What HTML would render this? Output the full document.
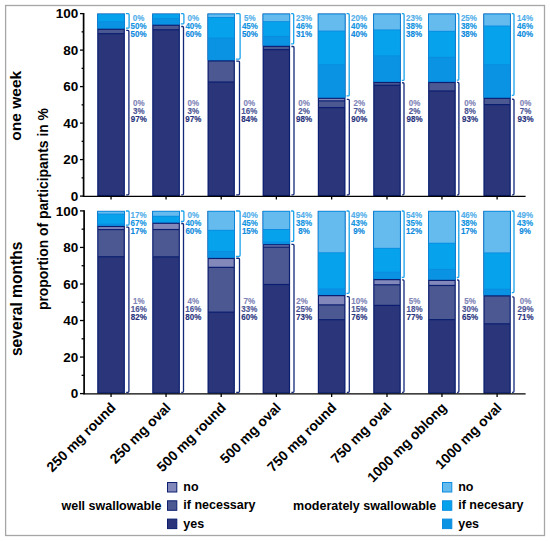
<!DOCTYPE html>
<html><head><meta charset="utf-8"><style>
html,body{margin:0;padding:0;background:#fff;}
body{width:550px;height:541px;overflow:hidden;}
svg{display:block;font-family:"Liberation Sans", sans-serif;font-weight:bold;}
</style></head><body>
<svg width="550" height="541" viewBox="0 0 550 541">
<rect width="550" height="541" fill="#fff"/>
<rect x="5.6" y="5.5" width="538.9" height="530" fill="none" stroke="#a6a6a6" stroke-width="1.3"/>
<rect x="97.20" y="13.60" width="27.70" height="182.50" fill="#0b1e70"/>
<rect x="97.20" y="13.60" width="27.70" height="15.06" fill="#0a8ce0"/>
<rect x="98.10" y="14.50" width="25.90" height="6.78" fill="#06a2eb"/>
<rect x="98.10" y="22.18" width="25.90" height="6.03" fill="#0a92e3"/>
<rect x="98.40" y="29.86" width="25.30" height="3.22" fill="#4c5892"/>
<rect x="98.40" y="34.28" width="25.30" height="160.62" fill="#2a3679"/>
<path d="M125.90,13.70 H128.10 Q129.10,13.70 129.10,14.70 V27.21 Q129.10,28.21 128.10,28.21 H125.90" fill="none" stroke="#18a2ec" stroke-width="1.3"/>
<path d="M126.20,30.41 H127.90 Q128.90,30.41 128.90,31.41 V193.80 Q128.90,194.80 127.90,194.80 H126.20" fill="none" stroke="#12297a" stroke-width="1.3"/>
<text transform="translate(138.60,21.00) scale(0.93,1)" fill="#50aeea" stroke="#50aeea" stroke-width="0.15" font-size="8.6" text-anchor="middle">0%</text>
<text transform="translate(138.60,29.00) scale(0.93,1)" fill="#1094e2" stroke="#1094e2" stroke-width="0.15" font-size="8.6" text-anchor="middle">50%</text>
<text transform="translate(138.60,37.00) scale(0.93,1)" fill="#0a89dd" stroke="#0a89dd" stroke-width="0.15" font-size="8.6" text-anchor="middle">50%</text>
<text transform="translate(138.80,105.50) scale(0.93,1)" fill="#7f85b8" stroke="#7f85b8" stroke-width="0.15" font-size="8.6" text-anchor="middle">0%</text>
<text transform="translate(138.80,113.60) scale(0.93,1)" fill="#4d5696" stroke="#4d5696" stroke-width="0.15" font-size="8.6" text-anchor="middle">3%</text>
<text transform="translate(138.80,121.90) scale(0.93,1)" fill="#27327c" stroke="#27327c" stroke-width="0.15" font-size="8.6" text-anchor="middle">97%</text>
<rect x="152.20" y="13.60" width="27.70" height="182.50" fill="#0b1e70"/>
<rect x="152.20" y="13.60" width="27.70" height="11.04" fill="#0a8ce0"/>
<rect x="153.10" y="14.50" width="25.90" height="3.67" fill="#06a2eb"/>
<rect x="153.10" y="19.07" width="25.90" height="5.12" fill="#0a92e3"/>
<rect x="153.40" y="25.84" width="25.30" height="3.34" fill="#4c5892"/>
<rect x="153.40" y="30.39" width="25.30" height="164.51" fill="#2a3679"/>
<path d="M180.90,13.70 H182.90 Q183.90,13.70 183.90,14.70 V22.89 Q183.90,23.89 182.90,23.89 H180.90" fill="none" stroke="#18a2ec" stroke-width="1.3"/>
<path d="M181.20,26.49 H182.50 Q183.50,26.49 183.50,27.49 V193.80 Q183.50,194.80 182.50,194.80 H181.20" fill="none" stroke="#12297a" stroke-width="1.3"/>
<text transform="translate(193.40,21.00) scale(0.93,1)" fill="#50aeea" stroke="#50aeea" stroke-width="0.15" font-size="8.6" text-anchor="middle">0%</text>
<text transform="translate(193.40,29.00) scale(0.93,1)" fill="#1094e2" stroke="#1094e2" stroke-width="0.15" font-size="8.6" text-anchor="middle">40%</text>
<text transform="translate(193.40,37.00) scale(0.93,1)" fill="#0a89dd" stroke="#0a89dd" stroke-width="0.15" font-size="8.6" text-anchor="middle">60%</text>
<text transform="translate(193.30,105.50) scale(0.93,1)" fill="#7f85b8" stroke="#7f85b8" stroke-width="0.15" font-size="8.6" text-anchor="middle">0%</text>
<text transform="translate(193.30,113.60) scale(0.93,1)" fill="#4d5696" stroke="#4d5696" stroke-width="0.15" font-size="8.6" text-anchor="middle">3%</text>
<text transform="translate(193.30,121.90) scale(0.93,1)" fill="#27327c" stroke="#27327c" stroke-width="0.15" font-size="8.6" text-anchor="middle">97%</text>
<rect x="207.50" y="13.60" width="27.40" height="182.50" fill="#0b1e70"/>
<rect x="207.50" y="13.60" width="27.40" height="46.72" fill="#0a8ce0"/>
<rect x="208.40" y="14.50" width="25.60" height="2.52" fill="#66bbee"/>
<rect x="208.40" y="17.92" width="25.60" height="19.66" fill="#06a2eb"/>
<rect x="208.40" y="38.48" width="25.60" height="21.39" fill="#0a92e3"/>
<rect x="208.70" y="61.52" width="25.00" height="19.92" fill="#4c5892"/>
<rect x="208.70" y="82.64" width="25.00" height="112.26" fill="#2a3679"/>
<path d="M235.90,13.70 H239.10 Q240.10,13.70 240.10,14.70 V58.12 Q240.10,59.12 239.10,59.12 H235.90" fill="none" stroke="#18a2ec" stroke-width="1.3"/>
<path d="M236.20,61.12 H238.50 Q239.50,61.12 239.50,62.12 V193.80 Q239.50,194.80 238.50,194.80 H236.20" fill="none" stroke="#12297a" stroke-width="1.3"/>
<text transform="translate(249.90,21.00) scale(0.93,1)" fill="#50aeea" stroke="#50aeea" stroke-width="0.15" font-size="8.6" text-anchor="middle">5%</text>
<text transform="translate(249.90,29.00) scale(0.93,1)" fill="#1094e2" stroke="#1094e2" stroke-width="0.15" font-size="8.6" text-anchor="middle">45%</text>
<text transform="translate(249.90,37.00) scale(0.93,1)" fill="#0a89dd" stroke="#0a89dd" stroke-width="0.15" font-size="8.6" text-anchor="middle">50%</text>
<text transform="translate(249.30,105.50) scale(0.93,1)" fill="#7f85b8" stroke="#7f85b8" stroke-width="0.15" font-size="8.6" text-anchor="middle">0%</text>
<text transform="translate(249.30,113.60) scale(0.93,1)" fill="#4d5696" stroke="#4d5696" stroke-width="0.15" font-size="8.6" text-anchor="middle">16%</text>
<text transform="translate(249.30,121.90) scale(0.93,1)" fill="#27327c" stroke="#27327c" stroke-width="0.15" font-size="8.6" text-anchor="middle">84%</text>
<rect x="262.60" y="13.60" width="27.50" height="182.50" fill="#0b1e70"/>
<rect x="262.60" y="13.60" width="27.50" height="32.12" fill="#0a8ce0"/>
<rect x="263.50" y="14.50" width="25.70" height="6.64" fill="#66bbee"/>
<rect x="263.50" y="22.04" width="25.70" height="13.88" fill="#06a2eb"/>
<rect x="263.50" y="36.81" width="25.70" height="8.46" fill="#0a92e3"/>
<rect x="263.80" y="46.92" width="25.10" height="2.11" fill="#4c5892"/>
<rect x="263.80" y="50.23" width="25.10" height="144.67" fill="#2a3679"/>
<path d="M291.10,13.70 H292.70 Q293.70,13.70 293.70,14.70 V42.92 Q293.70,43.92 292.70,43.92 H291.10" fill="none" stroke="#18a2ec" stroke-width="1.3"/>
<path d="M291.40,46.52 H293.00 Q294.00,46.52 294.00,47.52 V193.80 Q294.00,194.80 293.00,194.80 H291.40" fill="none" stroke="#12297a" stroke-width="1.3"/>
<text transform="translate(304.00,21.00) scale(0.93,1)" fill="#50aeea" stroke="#50aeea" stroke-width="0.15" font-size="8.6" text-anchor="middle">23%</text>
<text transform="translate(304.00,29.00) scale(0.93,1)" fill="#1094e2" stroke="#1094e2" stroke-width="0.15" font-size="8.6" text-anchor="middle">46%</text>
<text transform="translate(304.00,37.00) scale(0.93,1)" fill="#0a89dd" stroke="#0a89dd" stroke-width="0.15" font-size="8.6" text-anchor="middle">31%</text>
<text transform="translate(304.10,105.50) scale(0.93,1)" fill="#7f85b8" stroke="#7f85b8" stroke-width="0.15" font-size="8.6" text-anchor="middle">0%</text>
<text transform="translate(304.10,113.60) scale(0.93,1)" fill="#4d5696" stroke="#4d5696" stroke-width="0.15" font-size="8.6" text-anchor="middle">2%</text>
<text transform="translate(304.10,121.90) scale(0.93,1)" fill="#27327c" stroke="#27327c" stroke-width="0.15" font-size="8.6" text-anchor="middle">98%</text>
<rect x="317.80" y="13.60" width="27.70" height="182.50" fill="#0b1e70"/>
<rect x="317.80" y="13.60" width="27.70" height="84.13" fill="#0a8ce0"/>
<rect x="318.70" y="14.50" width="25.90" height="16.08" fill="#66bbee"/>
<rect x="318.70" y="31.48" width="25.90" height="32.75" fill="#06a2eb"/>
<rect x="318.70" y="65.13" width="25.90" height="32.15" fill="#0a92e3"/>
<rect x="319.00" y="98.93" width="25.30" height="1.35" fill="#8289ba"/>
<rect x="319.00" y="101.48" width="25.30" height="5.49" fill="#4c5892"/>
<rect x="319.00" y="108.17" width="25.30" height="86.73" fill="#2a3679"/>
<path d="M346.50,13.70 H348.20 Q349.20,13.70 349.20,14.70 V94.93 Q349.20,95.93 348.20,95.93 H346.50" fill="none" stroke="#18a2ec" stroke-width="1.3"/>
<path d="M346.80,99.33 H348.30 Q349.30,99.33 349.30,100.33 V193.80 Q349.30,194.80 348.30,194.80 H346.80" fill="none" stroke="#12297a" stroke-width="1.3"/>
<text transform="translate(359.00,21.00) scale(0.93,1)" fill="#50aeea" stroke="#50aeea" stroke-width="0.15" font-size="8.6" text-anchor="middle">20%</text>
<text transform="translate(359.00,29.00) scale(0.93,1)" fill="#1094e2" stroke="#1094e2" stroke-width="0.15" font-size="8.6" text-anchor="middle">40%</text>
<text transform="translate(359.00,37.00) scale(0.93,1)" fill="#0a89dd" stroke="#0a89dd" stroke-width="0.15" font-size="8.6" text-anchor="middle">40%</text>
<text transform="translate(359.30,105.50) scale(0.93,1)" fill="#7f85b8" stroke="#7f85b8" stroke-width="0.15" font-size="8.6" text-anchor="middle">2%</text>
<text transform="translate(359.30,113.60) scale(0.93,1)" fill="#4d5696" stroke="#4d5696" stroke-width="0.15" font-size="8.6" text-anchor="middle">7%</text>
<text transform="translate(359.30,121.90) scale(0.93,1)" fill="#27327c" stroke="#27327c" stroke-width="0.15" font-size="8.6" text-anchor="middle">90%</text>
<rect x="373.20" y="13.60" width="27.60" height="182.50" fill="#0b1e70"/>
<rect x="373.20" y="13.60" width="27.60" height="68.25" fill="#0a8ce0"/>
<rect x="374.10" y="14.50" width="25.80" height="14.95" fill="#66bbee"/>
<rect x="374.10" y="30.35" width="25.80" height="25.04" fill="#06a2eb"/>
<rect x="374.10" y="56.29" width="25.80" height="25.12" fill="#0a92e3"/>
<rect x="374.40" y="83.05" width="25.20" height="1.63" fill="#4c5892"/>
<rect x="374.40" y="85.88" width="25.20" height="109.02" fill="#2a3679"/>
<path d="M401.80,13.70 H403.10 Q404.10,13.70 404.10,14.70 V79.45 Q404.10,80.45 403.10,80.45 H401.80" fill="none" stroke="#18a2ec" stroke-width="1.3"/>
<path d="M402.10,82.75 H403.00 Q404.00,82.75 404.00,83.75 V193.80 Q404.00,194.80 403.00,194.80 H402.10" fill="none" stroke="#12297a" stroke-width="1.3"/>
<text transform="translate(414.00,21.00) scale(0.93,1)" fill="#50aeea" stroke="#50aeea" stroke-width="0.15" font-size="8.6" text-anchor="middle">23%</text>
<text transform="translate(414.00,29.00) scale(0.93,1)" fill="#1094e2" stroke="#1094e2" stroke-width="0.15" font-size="8.6" text-anchor="middle">38%</text>
<text transform="translate(414.00,37.00) scale(0.93,1)" fill="#0a89dd" stroke="#0a89dd" stroke-width="0.15" font-size="8.6" text-anchor="middle">38%</text>
<text transform="translate(414.60,105.50) scale(0.93,1)" fill="#7f85b8" stroke="#7f85b8" stroke-width="0.15" font-size="8.6" text-anchor="middle">0%</text>
<text transform="translate(414.60,113.60) scale(0.93,1)" fill="#4d5696" stroke="#4d5696" stroke-width="0.15" font-size="8.6" text-anchor="middle">2%</text>
<text transform="translate(414.60,121.90) scale(0.93,1)" fill="#27327c" stroke="#27327c" stroke-width="0.15" font-size="8.6" text-anchor="middle">98%</text>
<rect x="428.10" y="13.60" width="27.70" height="182.50" fill="#0b1e70"/>
<rect x="428.10" y="13.60" width="27.70" height="68.25" fill="#0a8ce0"/>
<rect x="429.00" y="14.50" width="25.90" height="16.31" fill="#66bbee"/>
<rect x="429.00" y="31.71" width="25.90" height="25.04" fill="#06a2eb"/>
<rect x="429.00" y="57.65" width="25.90" height="23.75" fill="#0a92e3"/>
<rect x="429.30" y="83.05" width="25.30" height="7.34" fill="#4c5892"/>
<rect x="429.30" y="91.59" width="25.30" height="103.31" fill="#2a3679"/>
<path d="M456.80,13.70 H457.80 Q458.80,13.70 458.80,14.70 V79.15 Q458.80,80.15 457.80,80.15 H456.80" fill="none" stroke="#18a2ec" stroke-width="1.3"/>
<path d="M457.10,82.45 H457.90 Q458.90,82.45 458.90,83.45 V193.80 Q458.90,194.80 457.90,194.80 H457.10" fill="none" stroke="#12297a" stroke-width="1.3"/>
<text transform="translate(468.90,21.00) scale(0.93,1)" fill="#50aeea" stroke="#50aeea" stroke-width="0.15" font-size="8.6" text-anchor="middle">25%</text>
<text transform="translate(468.90,29.00) scale(0.93,1)" fill="#1094e2" stroke="#1094e2" stroke-width="0.15" font-size="8.6" text-anchor="middle">38%</text>
<text transform="translate(468.90,37.00) scale(0.93,1)" fill="#0a89dd" stroke="#0a89dd" stroke-width="0.15" font-size="8.6" text-anchor="middle">38%</text>
<text transform="translate(470.10,105.50) scale(0.93,1)" fill="#7f85b8" stroke="#7f85b8" stroke-width="0.15" font-size="8.6" text-anchor="middle">0%</text>
<text transform="translate(470.10,113.60) scale(0.93,1)" fill="#4d5696" stroke="#4d5696" stroke-width="0.15" font-size="8.6" text-anchor="middle">8%</text>
<text transform="translate(470.10,121.90) scale(0.93,1)" fill="#27327c" stroke="#27327c" stroke-width="0.15" font-size="8.6" text-anchor="middle">93%</text>
<rect x="483.40" y="13.60" width="27.40" height="182.50" fill="#0b1e70"/>
<rect x="483.40" y="13.60" width="27.40" height="84.13" fill="#0a8ce0"/>
<rect x="484.30" y="14.50" width="25.60" height="11.03" fill="#66bbee"/>
<rect x="484.30" y="26.43" width="25.60" height="37.80" fill="#06a2eb"/>
<rect x="484.30" y="65.13" width="25.60" height="32.15" fill="#0a92e3"/>
<rect x="484.60" y="98.93" width="25.00" height="5.09" fill="#4c5892"/>
<rect x="484.60" y="105.22" width="25.00" height="89.68" fill="#2a3679"/>
<path d="M511.80,13.70 H513.00 Q514.00,13.70 514.00,14.70 V94.33 Q514.00,95.33 513.00,95.33 H511.80" fill="none" stroke="#18a2ec" stroke-width="1.3"/>
<path d="M512.10,99.23 H513.00 Q514.00,99.23 514.00,100.23 V193.80 Q514.00,194.80 513.00,194.80 H512.10" fill="none" stroke="#12297a" stroke-width="1.3"/>
<text transform="translate(525.00,21.00) scale(0.93,1)" fill="#50aeea" stroke="#50aeea" stroke-width="0.15" font-size="8.6" text-anchor="middle">14%</text>
<text transform="translate(525.00,29.00) scale(0.93,1)" fill="#1094e2" stroke="#1094e2" stroke-width="0.15" font-size="8.6" text-anchor="middle">46%</text>
<text transform="translate(525.00,37.00) scale(0.93,1)" fill="#0a89dd" stroke="#0a89dd" stroke-width="0.15" font-size="8.6" text-anchor="middle">40%</text>
<text transform="translate(525.50,105.50) scale(0.93,1)" fill="#7f85b8" stroke="#7f85b8" stroke-width="0.15" font-size="8.6" text-anchor="middle">0%</text>
<text transform="translate(525.50,113.60) scale(0.93,1)" fill="#4d5696" stroke="#4d5696" stroke-width="0.15" font-size="8.6" text-anchor="middle">7%</text>
<text transform="translate(525.50,121.90) scale(0.93,1)" fill="#27327c" stroke="#27327c" stroke-width="0.15" font-size="8.6" text-anchor="middle">93%</text>
<line x1="83.6" y1="13.0" x2="83.6" y2="196.79999999999998" stroke="#000" stroke-width="1.7"/>
<line x1="82.8" y1="196.40" x2="525.6" y2="196.40" stroke="#000" stroke-width="1.2"/>
<line x1="80.0" y1="196.10" x2="83.6" y2="196.10" stroke="#000" stroke-width="1.3"/>
<text x="78.3" y="200.80" font-size="13.5" fill="#000" text-anchor="end">0</text>
<line x1="81.6" y1="177.85" x2="83.6" y2="177.85" stroke="#000" stroke-width="1.3"/>
<line x1="80.0" y1="159.60" x2="83.6" y2="159.60" stroke="#000" stroke-width="1.3"/>
<text x="78.3" y="164.30" font-size="13.5" fill="#000" text-anchor="end">20</text>
<line x1="81.6" y1="141.35" x2="83.6" y2="141.35" stroke="#000" stroke-width="1.3"/>
<line x1="80.0" y1="123.10" x2="83.6" y2="123.10" stroke="#000" stroke-width="1.3"/>
<text x="78.3" y="127.80" font-size="13.5" fill="#000" text-anchor="end">40</text>
<line x1="81.6" y1="104.85" x2="83.6" y2="104.85" stroke="#000" stroke-width="1.3"/>
<line x1="80.0" y1="86.60" x2="83.6" y2="86.60" stroke="#000" stroke-width="1.3"/>
<text x="78.3" y="91.30" font-size="13.5" fill="#000" text-anchor="end">60</text>
<line x1="81.6" y1="68.35" x2="83.6" y2="68.35" stroke="#000" stroke-width="1.3"/>
<line x1="80.0" y1="50.10" x2="83.6" y2="50.10" stroke="#000" stroke-width="1.3"/>
<text x="78.3" y="54.80" font-size="13.5" fill="#000" text-anchor="end">80</text>
<line x1="81.6" y1="31.85" x2="83.6" y2="31.85" stroke="#000" stroke-width="1.3"/>
<line x1="80.0" y1="13.60" x2="83.6" y2="13.60" stroke="#000" stroke-width="1.3"/>
<text x="78.3" y="18.30" font-size="13.5" fill="#000" text-anchor="end">100</text>
<line x1="111.05" y1="196.1" x2="111.05" y2="199.4" stroke="#000" stroke-width="1.3"/>
<line x1="166.05" y1="196.1" x2="166.05" y2="199.4" stroke="#000" stroke-width="1.3"/>
<line x1="221.20" y1="196.1" x2="221.20" y2="199.4" stroke="#000" stroke-width="1.3"/>
<line x1="276.35" y1="196.1" x2="276.35" y2="199.4" stroke="#000" stroke-width="1.3"/>
<line x1="331.65" y1="196.1" x2="331.65" y2="199.4" stroke="#000" stroke-width="1.3"/>
<line x1="387.00" y1="196.1" x2="387.00" y2="199.4" stroke="#000" stroke-width="1.3"/>
<line x1="441.95" y1="196.1" x2="441.95" y2="199.4" stroke="#000" stroke-width="1.3"/>
<line x1="497.10" y1="196.1" x2="497.10" y2="199.4" stroke="#000" stroke-width="1.3"/>
<rect x="97.20" y="210.90" width="27.70" height="182.70" fill="#0b1e70"/>
<rect x="97.20" y="210.90" width="27.70" height="14.98" fill="#0a8ce0"/>
<rect x="98.10" y="211.80" width="25.90" height="1.80" fill="#66bbee"/>
<rect x="98.10" y="214.50" width="25.90" height="9.14" fill="#06a2eb"/>
<rect x="98.10" y="224.53" width="25.90" height="0.90" fill="#0a92e3"/>
<rect x="98.40" y="227.08" width="25.30" height="1.89" fill="#8289ba"/>
<rect x="98.40" y="230.17" width="25.30" height="25.97" fill="#4c5892"/>
<rect x="98.40" y="257.34" width="25.30" height="135.06" fill="#2a3679"/>
<path d="M125.90,211.00 H128.10 Q129.10,211.00 129.10,212.00 V224.08 Q129.10,225.08 128.10,225.08 H125.90" fill="none" stroke="#18a2ec" stroke-width="1.3"/>
<path d="M126.20,227.18 H127.90 Q128.90,227.18 128.90,228.18 V391.30 Q128.90,392.30 127.90,392.30 H126.20" fill="none" stroke="#12297a" stroke-width="1.3"/>
<text transform="translate(138.60,218.00) scale(0.93,1)" fill="#50aeea" stroke="#50aeea" stroke-width="0.15" font-size="8.6" text-anchor="middle">17%</text>
<text transform="translate(138.60,225.90) scale(0.93,1)" fill="#1094e2" stroke="#1094e2" stroke-width="0.15" font-size="8.6" text-anchor="middle">67%</text>
<text transform="translate(138.60,233.80) scale(0.93,1)" fill="#0a89dd" stroke="#0a89dd" stroke-width="0.15" font-size="8.6" text-anchor="middle">17%</text>
<text transform="translate(138.80,303.50) scale(0.93,1)" fill="#7f85b8" stroke="#7f85b8" stroke-width="0.15" font-size="8.6" text-anchor="middle">1%</text>
<text transform="translate(138.80,311.50) scale(0.93,1)" fill="#4d5696" stroke="#4d5696" stroke-width="0.15" font-size="8.6" text-anchor="middle">16%</text>
<text transform="translate(138.80,319.50) scale(0.93,1)" fill="#27327c" stroke="#27327c" stroke-width="0.15" font-size="8.6" text-anchor="middle">82%</text>
<rect x="152.20" y="210.90" width="27.70" height="182.70" fill="#0b1e70"/>
<rect x="152.20" y="210.90" width="27.70" height="11.78" fill="#0a8ce0"/>
<rect x="153.10" y="211.80" width="25.90" height="3.96" fill="#66bbee"/>
<rect x="153.10" y="216.66" width="25.90" height="5.57" fill="#06a2eb"/>
<rect x="153.40" y="223.88" width="25.30" height="5.04" fill="#8289ba"/>
<rect x="153.40" y="230.12" width="25.30" height="26.15" fill="#4c5892"/>
<rect x="153.40" y="257.47" width="25.30" height="134.93" fill="#2a3679"/>
<path d="M180.90,211.00 H182.90 Q183.90,211.00 183.90,212.00 V220.48 Q183.90,221.48 182.90,221.48 H180.90" fill="none" stroke="#18a2ec" stroke-width="1.3"/>
<path d="M181.20,223.48 H182.50 Q183.50,223.48 183.50,224.48 V391.30 Q183.50,392.30 182.50,392.30 H181.20" fill="none" stroke="#12297a" stroke-width="1.3"/>
<text transform="translate(193.40,218.00) scale(0.93,1)" fill="#50aeea" stroke="#50aeea" stroke-width="0.15" font-size="8.6" text-anchor="middle">0%</text>
<text transform="translate(193.40,225.90) scale(0.93,1)" fill="#1094e2" stroke="#1094e2" stroke-width="0.15" font-size="8.6" text-anchor="middle">40%</text>
<text transform="translate(193.40,233.80) scale(0.93,1)" fill="#0a89dd" stroke="#0a89dd" stroke-width="0.15" font-size="8.6" text-anchor="middle">60%</text>
<text transform="translate(193.30,303.50) scale(0.93,1)" fill="#7f85b8" stroke="#7f85b8" stroke-width="0.15" font-size="8.6" text-anchor="middle">4%</text>
<text transform="translate(193.30,311.50) scale(0.93,1)" fill="#4d5696" stroke="#4d5696" stroke-width="0.15" font-size="8.6" text-anchor="middle">16%</text>
<text transform="translate(193.30,319.50) scale(0.93,1)" fill="#27327c" stroke="#27327c" stroke-width="0.15" font-size="8.6" text-anchor="middle">80%</text>
<rect x="207.50" y="210.90" width="27.40" height="182.70" fill="#0b1e70"/>
<rect x="207.50" y="210.90" width="27.40" height="46.95" fill="#0a8ce0"/>
<rect x="208.40" y="211.80" width="25.60" height="18.03" fill="#66bbee"/>
<rect x="208.40" y="230.73" width="25.60" height="20.23" fill="#06a2eb"/>
<rect x="208.40" y="251.86" width="25.60" height="5.54" fill="#0a92e3"/>
<rect x="208.70" y="259.05" width="25.00" height="7.70" fill="#8289ba"/>
<rect x="208.70" y="267.96" width="25.00" height="43.60" fill="#4c5892"/>
<rect x="208.70" y="312.75" width="25.00" height="79.65" fill="#2a3679"/>
<path d="M235.90,211.00 H239.10 Q240.10,211.00 240.10,212.00 V255.35 Q240.10,256.35 239.10,256.35 H235.90" fill="none" stroke="#18a2ec" stroke-width="1.3"/>
<path d="M236.20,258.25 H238.50 Q239.50,258.25 239.50,259.25 V391.30 Q239.50,392.30 238.50,392.30 H236.20" fill="none" stroke="#12297a" stroke-width="1.3"/>
<text transform="translate(249.90,218.00) scale(0.93,1)" fill="#50aeea" stroke="#50aeea" stroke-width="0.15" font-size="8.6" text-anchor="middle">40%</text>
<text transform="translate(249.90,225.90) scale(0.93,1)" fill="#1094e2" stroke="#1094e2" stroke-width="0.15" font-size="8.6" text-anchor="middle">45%</text>
<text transform="translate(249.90,233.80) scale(0.93,1)" fill="#0a89dd" stroke="#0a89dd" stroke-width="0.15" font-size="8.6" text-anchor="middle">15%</text>
<text transform="translate(249.30,303.50) scale(0.93,1)" fill="#7f85b8" stroke="#7f85b8" stroke-width="0.15" font-size="8.6" text-anchor="middle">7%</text>
<text transform="translate(249.30,311.50) scale(0.93,1)" fill="#4d5696" stroke="#4d5696" stroke-width="0.15" font-size="8.6" text-anchor="middle">33%</text>
<text transform="translate(249.30,319.50) scale(0.93,1)" fill="#27327c" stroke="#27327c" stroke-width="0.15" font-size="8.6" text-anchor="middle">60%</text>
<rect x="262.60" y="210.90" width="27.50" height="182.70" fill="#0b1e70"/>
<rect x="262.60" y="210.90" width="27.50" height="33.25" fill="#0a8ce0"/>
<rect x="263.50" y="211.80" width="25.70" height="17.21" fill="#66bbee"/>
<rect x="263.50" y="229.91" width="25.70" height="11.74" fill="#06a2eb"/>
<rect x="263.50" y="242.54" width="25.70" height="1.16" fill="#0a92e3"/>
<rect x="263.80" y="245.35" width="25.10" height="1.19" fill="#8289ba"/>
<rect x="263.80" y="247.74" width="25.10" height="36.16" fill="#4c5892"/>
<rect x="263.80" y="285.10" width="25.10" height="107.30" fill="#2a3679"/>
<path d="M291.10,211.00 H292.70 Q293.70,211.00 293.70,212.00 V240.45 Q293.70,241.45 292.70,241.45 H291.10" fill="none" stroke="#18a2ec" stroke-width="1.3"/>
<path d="M291.40,244.45 H293.00 Q294.00,244.45 294.00,245.45 V391.30 Q294.00,392.30 293.00,392.30 H291.40" fill="none" stroke="#12297a" stroke-width="1.3"/>
<text transform="translate(304.00,218.00) scale(0.93,1)" fill="#50aeea" stroke="#50aeea" stroke-width="0.15" font-size="8.6" text-anchor="middle">54%</text>
<text transform="translate(304.00,225.90) scale(0.93,1)" fill="#1094e2" stroke="#1094e2" stroke-width="0.15" font-size="8.6" text-anchor="middle">38%</text>
<text transform="translate(304.00,233.80) scale(0.93,1)" fill="#0a89dd" stroke="#0a89dd" stroke-width="0.15" font-size="8.6" text-anchor="middle">8%</text>
<text transform="translate(302.00,303.50) scale(0.93,1)" fill="#7f85b8" stroke="#7f85b8" stroke-width="0.15" font-size="8.6" text-anchor="middle">2%</text>
<text transform="translate(304.10,311.50) scale(0.93,1)" fill="#4d5696" stroke="#4d5696" stroke-width="0.15" font-size="8.6" text-anchor="middle">25%</text>
<text transform="translate(304.10,319.50) scale(0.93,1)" fill="#27327c" stroke="#27327c" stroke-width="0.15" font-size="8.6" text-anchor="middle">73%</text>
<rect x="317.80" y="210.90" width="27.70" height="182.70" fill="#0b1e70"/>
<rect x="317.80" y="210.90" width="27.70" height="84.13" fill="#0a8ce0"/>
<rect x="318.70" y="211.80" width="25.90" height="40.48" fill="#66bbee"/>
<rect x="318.70" y="253.18" width="25.90" height="35.28" fill="#06a2eb"/>
<rect x="318.70" y="289.35" width="25.90" height="5.23" fill="#0a92e3"/>
<rect x="319.00" y="296.23" width="25.30" height="8.06" fill="#8289ba"/>
<rect x="319.00" y="305.49" width="25.30" height="13.58" fill="#4c5892"/>
<rect x="319.00" y="320.28" width="25.30" height="72.12" fill="#2a3679"/>
<path d="M346.50,211.00 H348.20 Q349.20,211.00 349.20,212.00 V292.33 Q349.20,293.33 348.20,293.33 H346.50" fill="none" stroke="#18a2ec" stroke-width="1.3"/>
<path d="M346.80,296.53 H348.30 Q349.30,296.53 349.30,297.53 V391.30 Q349.30,392.30 348.30,392.30 H346.80" fill="none" stroke="#12297a" stroke-width="1.3"/>
<text transform="translate(359.00,218.00) scale(0.93,1)" fill="#50aeea" stroke="#50aeea" stroke-width="0.15" font-size="8.6" text-anchor="middle">49%</text>
<text transform="translate(359.00,225.90) scale(0.93,1)" fill="#1094e2" stroke="#1094e2" stroke-width="0.15" font-size="8.6" text-anchor="middle">43%</text>
<text transform="translate(359.00,233.80) scale(0.93,1)" fill="#0a89dd" stroke="#0a89dd" stroke-width="0.15" font-size="8.6" text-anchor="middle">9%</text>
<text transform="translate(359.30,303.50) scale(0.93,1)" fill="#7f85b8" stroke="#7f85b8" stroke-width="0.15" font-size="8.6" text-anchor="middle">10%</text>
<text transform="translate(359.30,311.50) scale(0.93,1)" fill="#4d5696" stroke="#4d5696" stroke-width="0.15" font-size="8.6" text-anchor="middle">15%</text>
<text transform="translate(359.30,319.50) scale(0.93,1)" fill="#27327c" stroke="#27327c" stroke-width="0.15" font-size="8.6" text-anchor="middle">76%</text>
<rect x="373.20" y="210.90" width="27.60" height="182.70" fill="#0b1e70"/>
<rect x="373.20" y="210.90" width="27.60" height="68.15" fill="#0a8ce0"/>
<rect x="374.10" y="211.80" width="25.80" height="36.05" fill="#66bbee"/>
<rect x="374.10" y="248.75" width="25.80" height="22.95" fill="#06a2eb"/>
<rect x="374.10" y="272.60" width="25.80" height="6.00" fill="#0a92e3"/>
<rect x="374.40" y="280.25" width="25.20" height="3.93" fill="#8289ba"/>
<rect x="374.40" y="285.37" width="25.20" height="19.42" fill="#4c5892"/>
<rect x="374.40" y="305.99" width="25.20" height="86.41" fill="#2a3679"/>
<path d="M401.80,211.00 H403.10 Q404.10,211.00 404.10,212.00 V276.40 Q404.10,277.40 403.10,277.40 H401.80" fill="none" stroke="#18a2ec" stroke-width="1.3"/>
<path d="M402.10,279.80 H403.00 Q404.00,279.80 404.00,280.80 V391.30 Q404.00,392.30 403.00,392.30 H402.10" fill="none" stroke="#12297a" stroke-width="1.3"/>
<text transform="translate(414.00,218.00) scale(0.93,1)" fill="#50aeea" stroke="#50aeea" stroke-width="0.15" font-size="8.6" text-anchor="middle">54%</text>
<text transform="translate(414.00,225.90) scale(0.93,1)" fill="#1094e2" stroke="#1094e2" stroke-width="0.15" font-size="8.6" text-anchor="middle">35%</text>
<text transform="translate(414.00,233.80) scale(0.93,1)" fill="#0a89dd" stroke="#0a89dd" stroke-width="0.15" font-size="8.6" text-anchor="middle">12%</text>
<text transform="translate(414.60,303.50) scale(0.93,1)" fill="#7f85b8" stroke="#7f85b8" stroke-width="0.15" font-size="8.6" text-anchor="middle">5%</text>
<text transform="translate(414.60,311.50) scale(0.93,1)" fill="#4d5696" stroke="#4d5696" stroke-width="0.15" font-size="8.6" text-anchor="middle">18%</text>
<text transform="translate(414.60,319.50) scale(0.93,1)" fill="#27327c" stroke="#27327c" stroke-width="0.15" font-size="8.6" text-anchor="middle">77%</text>
<rect x="428.10" y="210.90" width="27.70" height="182.70" fill="#0b1e70"/>
<rect x="428.10" y="210.90" width="27.70" height="68.88" fill="#0a8ce0"/>
<rect x="429.00" y="211.80" width="25.90" height="30.93" fill="#66bbee"/>
<rect x="429.00" y="243.63" width="25.90" height="25.27" fill="#06a2eb"/>
<rect x="429.00" y="269.81" width="25.90" height="9.52" fill="#0a92e3"/>
<rect x="429.30" y="280.98" width="25.30" height="3.89" fill="#8289ba"/>
<rect x="429.30" y="286.07" width="25.30" height="32.95" fill="#4c5892"/>
<rect x="429.30" y="320.22" width="25.30" height="72.18" fill="#2a3679"/>
<path d="M456.80,211.00 H457.80 Q458.80,211.00 458.80,212.00 V276.48 Q458.80,277.48 457.80,277.48 H456.80" fill="none" stroke="#18a2ec" stroke-width="1.3"/>
<path d="M457.10,279.98 H457.90 Q458.90,279.98 458.90,280.98 V391.30 Q458.90,392.30 457.90,392.30 H457.10" fill="none" stroke="#12297a" stroke-width="1.3"/>
<text transform="translate(468.90,218.00) scale(0.93,1)" fill="#50aeea" stroke="#50aeea" stroke-width="0.15" font-size="8.6" text-anchor="middle">46%</text>
<text transform="translate(468.90,225.90) scale(0.93,1)" fill="#1094e2" stroke="#1094e2" stroke-width="0.15" font-size="8.6" text-anchor="middle">38%</text>
<text transform="translate(468.90,233.80) scale(0.93,1)" fill="#0a89dd" stroke="#0a89dd" stroke-width="0.15" font-size="8.6" text-anchor="middle">17%</text>
<text transform="translate(470.10,303.50) scale(0.93,1)" fill="#7f85b8" stroke="#7f85b8" stroke-width="0.15" font-size="8.6" text-anchor="middle">5%</text>
<text transform="translate(470.10,311.50) scale(0.93,1)" fill="#4d5696" stroke="#4d5696" stroke-width="0.15" font-size="8.6" text-anchor="middle">30%</text>
<text transform="translate(470.10,319.50) scale(0.93,1)" fill="#27327c" stroke="#27327c" stroke-width="0.15" font-size="8.6" text-anchor="middle">65%</text>
<rect x="483.40" y="210.90" width="27.40" height="182.70" fill="#0b1e70"/>
<rect x="483.40" y="210.90" width="27.40" height="84.41" fill="#0a8ce0"/>
<rect x="484.30" y="211.80" width="25.60" height="40.61" fill="#66bbee"/>
<rect x="484.30" y="253.31" width="25.60" height="35.40" fill="#06a2eb"/>
<rect x="484.30" y="289.60" width="25.60" height="5.25" fill="#0a92e3"/>
<rect x="484.60" y="296.51" width="25.00" height="26.70" fill="#4c5892"/>
<rect x="484.60" y="324.41" width="25.00" height="67.99" fill="#2a3679"/>
<path d="M511.80,211.00 H513.00 Q514.00,211.00 514.00,212.00 V291.61 Q514.00,292.61 513.00,292.61 H511.80" fill="none" stroke="#18a2ec" stroke-width="1.3"/>
<path d="M512.10,296.81 H513.00 Q514.00,296.81 514.00,297.81 V391.30 Q514.00,392.30 513.00,392.30 H512.10" fill="none" stroke="#12297a" stroke-width="1.3"/>
<text transform="translate(525.00,218.00) scale(0.93,1)" fill="#50aeea" stroke="#50aeea" stroke-width="0.15" font-size="8.6" text-anchor="middle">49%</text>
<text transform="translate(525.00,225.90) scale(0.93,1)" fill="#1094e2" stroke="#1094e2" stroke-width="0.15" font-size="8.6" text-anchor="middle">43%</text>
<text transform="translate(525.00,233.80) scale(0.93,1)" fill="#0a89dd" stroke="#0a89dd" stroke-width="0.15" font-size="8.6" text-anchor="middle">9%</text>
<text transform="translate(525.50,303.50) scale(0.93,1)" fill="#7f85b8" stroke="#7f85b8" stroke-width="0.15" font-size="8.6" text-anchor="middle">0%</text>
<text transform="translate(525.50,311.50) scale(0.93,1)" fill="#4d5696" stroke="#4d5696" stroke-width="0.15" font-size="8.6" text-anchor="middle">29%</text>
<text transform="translate(525.50,319.50) scale(0.93,1)" fill="#27327c" stroke="#27327c" stroke-width="0.15" font-size="8.6" text-anchor="middle">71%</text>
<line x1="84.1" y1="210.3" x2="84.1" y2="394.3" stroke="#000" stroke-width="1.7"/>
<line x1="83.3" y1="393.90" x2="525.6" y2="393.90" stroke="#000" stroke-width="1.2"/>
<line x1="80.0" y1="393.60" x2="84.1" y2="393.60" stroke="#000" stroke-width="1.3"/>
<text x="78.3" y="398.30" font-size="13.5" fill="#000" text-anchor="end">0</text>
<line x1="81.6" y1="375.33" x2="84.1" y2="375.33" stroke="#000" stroke-width="1.3"/>
<line x1="80.0" y1="357.06" x2="84.1" y2="357.06" stroke="#000" stroke-width="1.3"/>
<text x="78.3" y="361.76" font-size="13.5" fill="#000" text-anchor="end">20</text>
<line x1="81.6" y1="338.79" x2="84.1" y2="338.79" stroke="#000" stroke-width="1.3"/>
<line x1="80.0" y1="320.52" x2="84.1" y2="320.52" stroke="#000" stroke-width="1.3"/>
<text x="78.3" y="325.22" font-size="13.5" fill="#000" text-anchor="end">40</text>
<line x1="81.6" y1="302.25" x2="84.1" y2="302.25" stroke="#000" stroke-width="1.3"/>
<line x1="80.0" y1="283.98" x2="84.1" y2="283.98" stroke="#000" stroke-width="1.3"/>
<text x="78.3" y="288.68" font-size="13.5" fill="#000" text-anchor="end">60</text>
<line x1="81.6" y1="265.71" x2="84.1" y2="265.71" stroke="#000" stroke-width="1.3"/>
<line x1="80.0" y1="247.44" x2="84.1" y2="247.44" stroke="#000" stroke-width="1.3"/>
<text x="78.3" y="252.14" font-size="13.5" fill="#000" text-anchor="end">80</text>
<line x1="81.6" y1="229.17" x2="84.1" y2="229.17" stroke="#000" stroke-width="1.3"/>
<line x1="80.0" y1="210.90" x2="84.1" y2="210.90" stroke="#000" stroke-width="1.3"/>
<text x="78.3" y="215.60" font-size="13.5" fill="#000" text-anchor="end">100</text>
<line x1="111.05" y1="393.6" x2="111.05" y2="396.90000000000003" stroke="#000" stroke-width="1.3"/>
<line x1="166.05" y1="393.6" x2="166.05" y2="396.90000000000003" stroke="#000" stroke-width="1.3"/>
<line x1="221.20" y1="393.6" x2="221.20" y2="396.90000000000003" stroke="#000" stroke-width="1.3"/>
<line x1="276.35" y1="393.6" x2="276.35" y2="396.90000000000003" stroke="#000" stroke-width="1.3"/>
<line x1="331.65" y1="393.6" x2="331.65" y2="396.90000000000003" stroke="#000" stroke-width="1.3"/>
<line x1="387.00" y1="393.6" x2="387.00" y2="396.90000000000003" stroke="#000" stroke-width="1.3"/>
<line x1="441.95" y1="393.6" x2="441.95" y2="396.90000000000003" stroke="#000" stroke-width="1.3"/>
<line x1="497.10" y1="393.6" x2="497.10" y2="396.90000000000003" stroke="#000" stroke-width="1.3"/>
<text transform="translate(116.55,408.5) rotate(-45)" font-size="13.85" fill="#000" text-anchor="end">250 mg round</text>
<text transform="translate(171.55,408.5) rotate(-45)" font-size="13.85" fill="#000" text-anchor="end">250 mg oval</text>
<text transform="translate(226.70,408.5) rotate(-45)" font-size="13.85" fill="#000" text-anchor="end">500 mg round</text>
<text transform="translate(281.85,408.5) rotate(-45)" font-size="13.85" fill="#000" text-anchor="end">500 mg oval</text>
<text transform="translate(337.15,408.5) rotate(-45)" font-size="13.85" fill="#000" text-anchor="end">750 mg round</text>
<text transform="translate(392.50,408.5) rotate(-45)" font-size="13.85" fill="#000" text-anchor="end">750 mg oval</text>
<text transform="translate(447.45,408.5) rotate(-45)" font-size="13.85" fill="#000" text-anchor="end">1000 mg oblong</text>
<text transform="translate(502.60,408.5) rotate(-45)" font-size="13.85" fill="#000" text-anchor="end">1000 mg oval</text>
<text transform="translate(21.3,105.75) rotate(-90)" font-size="15.5" text-anchor="middle" fill="#000">one week</text>
<text transform="translate(21.8,298.85) rotate(-90)" font-size="15.6" text-anchor="middle" fill="#000">several months</text>
<text transform="translate(47.6,209.05) rotate(-90)" font-size="13.88" text-anchor="middle" fill="#000">proportion of participants in %</text>
<text x="161.5" y="509.6" font-size="12.5" text-anchor="end" fill="#000">well swallowable</text>
<text x="436.2" y="509.6" font-size="12.5" text-anchor="end" fill="#000">moderately swallowable</text>
<rect x="167.5" y="482.5" width="9.3" height="9.5" fill="#8289ba" stroke="#0b1e70" stroke-width="1"/>
<text x="183.3" y="491.0" font-size="12.5" fill="#000">no</text>
<rect x="167.5" y="500.8" width="9.3" height="9.5" fill="#4c5892" stroke="#0b1e70" stroke-width="1"/>
<text x="183.3" y="509.3" font-size="12.5" fill="#000">if necessary</text>
<rect x="167.5" y="519.1" width="9.3" height="9.5" fill="#2a3679" stroke="#0b1e70" stroke-width="1"/>
<text x="183.3" y="527.6" font-size="12.5" fill="#000">yes</text>
<rect x="442.5" y="482.5" width="9.3" height="9.5" fill="#66bbee" stroke="#0a8ce0" stroke-width="1"/>
<text x="458.2" y="491.0" font-size="12.5" fill="#000">no</text>
<rect x="442.5" y="500.8" width="9.3" height="9.5" fill="#06a2eb" stroke="#0a8ce0" stroke-width="1"/>
<text x="458.2" y="509.3" font-size="12.5" fill="#000">if necesary</text>
<rect x="442.5" y="519.1" width="9.3" height="9.5" fill="#0a92e3" stroke="#0a8ce0" stroke-width="1"/>
<text x="458.2" y="527.6" font-size="12.5" fill="#000">yes</text>
</svg>
</body></html>
